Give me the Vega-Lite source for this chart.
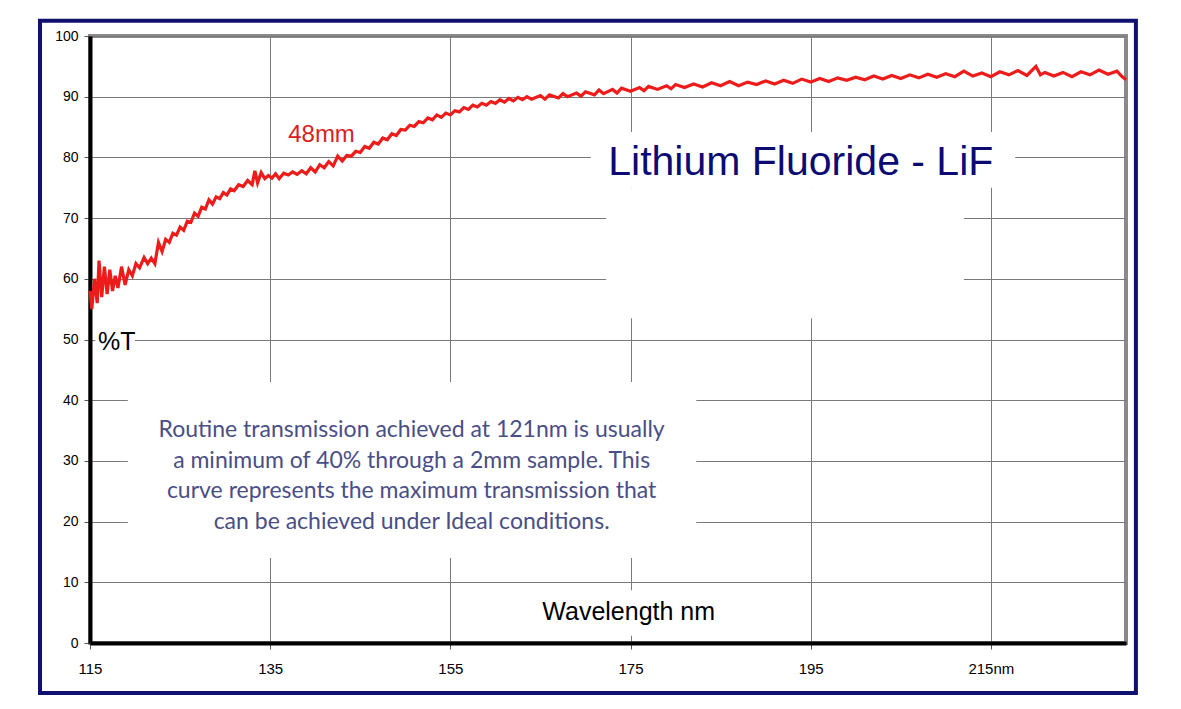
{
  "$schema": "https://vega.github.io/schema/vega-lite/v6.json",
  "width": 1036,
  "height": 607,
  "autosize": {"type": "none"},
  "padding": {"left": 90, "top": 36, "right": 55, "bottom": 66},
  "background": "white",
  "data": {"values": [{}]},
  "config": {
    "font": "Liberation Sans",
    "view": {"stroke": "#8a8a8a", "strokeWidth": 4}
  },
  "layer": [
    {
      "data": {"values": [
        {"w":115.0,"t":58},{"w":115.2,"t":55},{"w":115.5,"t":60},{"w":115.8,"t":56},{"w":116.0,"t":63},
        {"w":116.3,"t":57},{"w":116.6,"t":62},{"w":116.9,"t":57.5},{"w":117.2,"t":61.5},{"w":117.5,"t":58},
        {"w":117.8,"t":60.5},{"w":118.1,"t":58.5},{"w":118.5,"t":62},{"w":118.9,"t":59},{"w":119.3,"t":61.5},
        {"w":119.7,"t":60.5},{"w":120.1,"t":62.5},{"w":120.5,"t":61.8},{"w":121.0,"t":63.5},{"w":121.4,"t":62.5},
        {"w":121.8,"t":63.4},{"w":122.2,"t":62.5},{"w":122.6,"t":66},{"w":123.0,"t":64.5},{"w":123.4,"t":66.5},
        {"w":123.8,"t":66},{"w":124.2,"t":67.5},{"w":124.6,"t":67.2},{"w":125.0,"t":68.5},{"w":125.4,"t":68},
        {"w":125.8,"t":69.5},{"w":126.2,"t":69.3},{"w":126.6,"t":70.8},{"w":127.0,"t":70.3},{"w":127.4,"t":71.8},
        {"w":127.8,"t":71.5},{"w":128.2,"t":73},{"w":128.6,"t":72.3},{"w":129.0,"t":73.5},{"w":129.4,"t":73.2},
        {"w":129.8,"t":74.2},{"w":130.2,"t":73.8},{"w":130.6,"t":74.8},{"w":131.0,"t":74.5},{"w":131.5,"t":75.5},
        {"w":132.0,"t":75.2},{"w":132.5,"t":76.2},{"w":133.0,"t":75.5},{"w":133.3,"t":77.8},{"w":133.6,"t":75.8},
        {"w":134.0,"t":77.5},{"w":134.4,"t":76.5},{"w":134.8,"t":77},{"w":135.2,"t":76.6},{"w":135.6,"t":77.3},
        {"w":136.0,"t":76.5},{"w":136.5,"t":77.4},{"w":137.0,"t":77.1},{"w":137.5,"t":77.6},{"w":138.0,"t":77.2},
        {"w":138.5,"t":77.8},{"w":139.0,"t":77.3},{"w":139.5,"t":78.3},{"w":140.0,"t":77.6},{"w":140.5,"t":78.8},
        {"w":141.0,"t":78.3},{"w":141.5,"t":79.3},{"w":142.0,"t":78.6},{"w":142.5,"t":80.2},{"w":143.0,"t":79.4},
        {"w":143.5,"t":80.3},{"w":144.0,"t":80.2},{"w":144.5,"t":81},{"w":145.0,"t":80.8},{"w":145.5,"t":81.8},
        {"w":146.0,"t":81.5},{"w":146.5,"t":82.5},{"w":147.0,"t":82.2},{"w":147.5,"t":83.2},{"w":148.0,"t":82.9},
        {"w":148.5,"t":83.9},{"w":149.0,"t":83.6},{"w":149.5,"t":84.6},{"w":150.0,"t":84.5},{"w":150.5,"t":85.3},
        {"w":151.0,"t":85.1},{"w":151.5,"t":85.9},{"w":152.0,"t":85.7},{"w":152.5,"t":86.5},{"w":153.0,"t":86.2},
        {"w":153.5,"t":87},{"w":154.0,"t":86.6},{"w":154.5,"t":87.3},{"w":155.0,"t":87},{"w":155.5,"t":87.7},
        {"w":156.0,"t":87.5},{"w":156.5,"t":88.2},{"w":157.0,"t":87.9},{"w":157.5,"t":88.6},{"w":158.0,"t":88.3},
        {"w":158.5,"t":88.9},{"w":159.0,"t":88.6},{"w":159.5,"t":89.2},{"w":160.0,"t":88.9},{"w":160.5,"t":89.5},
        {"w":161.0,"t":89.1},{"w":161.5,"t":89.7},{"w":162.0,"t":89.3},{"w":162.5,"t":89.9},{"w":163.0,"t":89.5},
        {"w":163.5,"t":90},{"w":164.0,"t":89.6},{"w":165.0,"t":90.2},{"w":165.5,"t":89.6},{"w":166.0,"t":90.3},
        {"w":167.0,"t":89.8},{"w":167.5,"t":90.5},{"w":168.0,"t":90},{"w":169.0,"t":90.6},{"w":169.5,"t":90.1},
        {"w":170.0,"t":90.8},{"w":171.0,"t":90.3},{"w":171.5,"t":91.1},{"w":172.0,"t":90.5},{"w":173.0,"t":91.2},
        {"w":173.5,"t":90.6},{"w":174.0,"t":91.4},{"w":175.0,"t":90.9},{"w":176.0,"t":91.5},{"w":176.5,"t":91},
        {"w":177.0,"t":91.7},{"w":178.0,"t":91.2},{"w":179.0,"t":91.8},{"w":179.5,"t":91.3},{"w":180.0,"t":92},
        {"w":181.0,"t":91.5},{"w":182.0,"t":92.1},{"w":183.0,"t":91.6},{"w":184.0,"t":92.3},{"w":185.0,"t":91.8},
        {"w":186.0,"t":92.5},{"w":187.0,"t":91.8},{"w":188.0,"t":92.4},{"w":189.0,"t":92},{"w":190.0,"t":92.6},
        {"w":191.0,"t":92.1},{"w":192.0,"t":92.7},{"w":193.0,"t":92.2},{"w":194.0,"t":92.9},{"w":195.0,"t":92.4},
        {"w":196.0,"t":93},{"w":197.0,"t":92.5},{"w":198.0,"t":93.1},{"w":199.0,"t":92.7},{"w":200.0,"t":93.2},
        {"w":201.0,"t":92.8},{"w":202.0,"t":93.4},{"w":203.0,"t":92.9},{"w":204.0,"t":93.5},{"w":205.0,"t":93},
        {"w":206.0,"t":93.6},{"w":207.0,"t":93.1},{"w":208.0,"t":93.7},{"w":209.0,"t":93.2},{"w":210.0,"t":93.8},
        {"w":211.0,"t":93.3},{"w":212.0,"t":94.2},{"w":213.0,"t":93.4},{"w":214.0,"t":93.9},{"w":215.0,"t":93.3},
        {"w":216.0,"t":94.1},{"w":217.0,"t":93.6},{"w":218.0,"t":94.3},{"w":219.0,"t":93.5},{"w":220.0,"t":95},
        {"w":220.5,"t":93.6},{"w":221.0,"t":94},{"w":222.0,"t":93.4},{"w":223.0,"t":94},{"w":224.0,"t":93.3},
        {"w":225.0,"t":94.1},{"w":226.0,"t":93.6},{"w":227.0,"t":94.4},{"w":228.0,"t":93.7},{"w":229.0,"t":94.2},
        {"w":229.5,"t":93.4},{"w":230.0,"t":92.8}
      ]},
      "mark": {"type": "line", "color": "#ee1b1b", "strokeWidth": 3.2},
      "encoding": {
        "x": {
          "field": "w", "type": "quantitative", "title": null,
          "scale": {"domain": [115, 230], "nice": false, "zero": false},
          "axis": {
            "values": [115, 135, 155, 175, 195, 215],
            "labelExpr": "datum.value == 215 ? '215nm' : datum.label",
            "labelFlush": false,
            "labelFontSize": 15, "labelColor": "black", "labelPadding": 12,
            "tickSize": 6, "tickColor": "#555", "domainColor": "black", "domainWidth": 4,
            "gridColor": "#7a7a7a", "gridWidth": 1, "gridOpacity": 1
          }
        },
        "y": {
          "field": "t", "type": "quantitative", "title": null,
          "scale": {"domain": [0, 100], "nice": false},
          "axis": {
            "values": [0, 10, 20, 30, 40, 50, 60, 70, 80, 90, 100],
            "labelFontSize": 14, "labelColor": "black", "labelPadding": 6,
            "tickSize": 6, "tickColor": "#555", "domainColor": "black", "domainWidth": 4,
            "gridColor": "#7a7a7a", "gridWidth": 1, "gridOpacity": 1
          }
        }
      }
    },
    {
      "mark": {"type": "rect", "color": "white"},
      "encoding": {
        "x": {"datum": 170.6, "title": null}, "x2": {"datum": 217.7},
        "y": {"datum": 84.2, "title": null}, "y2": {"datum": 75.0}
      }
    },
    {
      "mark": {"type": "rect", "color": "white"},
      "encoding": {
        "x": {"datum": 172.3, "title": null}, "x2": {"datum": 212.0},
        "y": {"datum": 75.0, "title": null}, "y2": {"datum": 53.5}
      }
    },
    {
      "mark": {"type": "rect", "color": "white"},
      "encoding": {
        "x": {"datum": 119.2, "title": null}, "x2": {"datum": 182.3},
        "y": {"datum": 43.0, "title": null}, "y2": {"datum": 14.0}
      }
    },
    {
      "mark": {"type": "rect", "color": "white"},
      "encoding": {
        "x": {"datum": 164.9, "title": null}, "x2": {"datum": 184.9},
        "y": {"datum": 8.7, "title": null}, "y2": {"datum": 1.2}
      }
    },
    {
      "mark": {"type": "rect", "color": "white"},
      "encoding": {
        "x": {"datum": 115.6, "title": null}, "x2": {"datum": 120.0},
        "y": {"datum": 51.6, "title": null}, "y2": {"datum": 47.4}
      }
    },
    {
      "mark": {"type": "text", "text": "48mm", "fontSize": 24, "color": "#d82222", "align": "center", "baseline": "middle"},
      "encoding": {"x": {"datum": 140.7, "title": null}, "y": {"datum": 83.7, "title": null}}
    },
    {
      "mark": {"type": "text", "text": "Lithium Fluoride - LiF", "fontSize": 41, "color": "#0b0b73", "align": "center", "baseline": "middle"},
      "encoding": {"x": {"datum": 193.9, "title": null}, "y": {"datum": 79.1, "title": null}}
    },
    {
      "mark": {"type": "text", "text": "%T", "fontSize": 25, "color": "black", "align": "left", "baseline": "middle"},
      "encoding": {"x": {"datum": 115.9, "title": null}, "y": {"datum": 49.6, "title": null}}
    },
    {
      "mark": {
        "type": "text",
        "text": ["Routine transmission achieved at 121nm is usually", "a minimum of 40% through a 2mm sample. This", "curve represents the maximum transmission that", "can be achieved under Ideal conditions."],
        "font": "Lato", "fontSize": 23, "lineHeight": 30.6, "color": "#4a4e86", "align": "center", "baseline": "middle"
      },
      "encoding": {"x": {"datum": 150.7, "title": null}, "y": {"datum": 35.1, "title": null}}
    },
    {
      "mark": {"type": "text", "text": "Wavelength nm", "fontSize": 25, "color": "black", "align": "center", "baseline": "middle"},
      "encoding": {"x": {"datum": 174.8, "title": null}, "y": {"datum": 5.1, "title": null}}
    },
    {
      "mark": {"type": "rect", "filled": false, "stroke": "#10106e", "strokeWidth": 4, "clip": false},
      "encoding": {
        "x": {"datum": 109.45, "title": null}, "x2": {"datum": 231.1},
        "y": {"datum": 102.5, "title": null}, "y2": {"datum": -8.24}
      }
    }
  ]
}
